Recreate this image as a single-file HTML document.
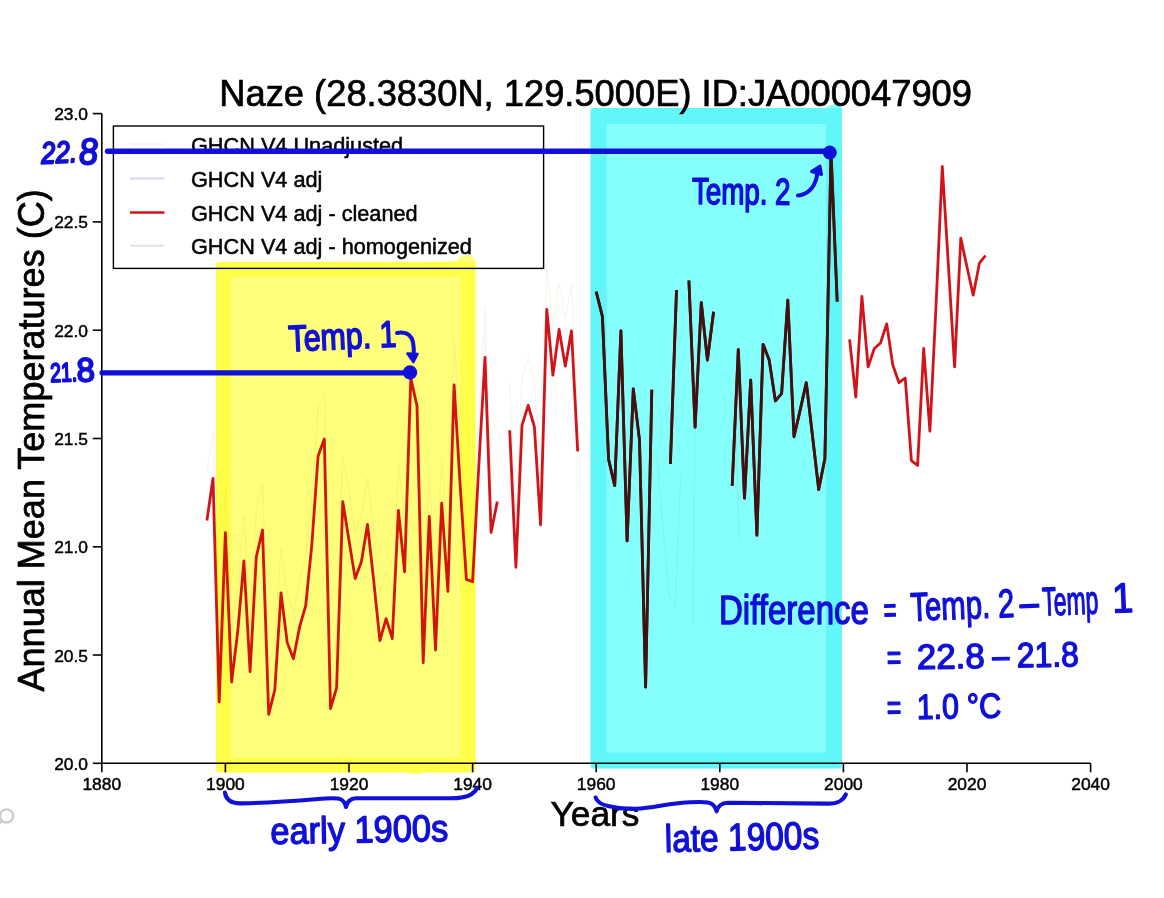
<!DOCTYPE html>
<html lang="en"><head><meta charset="utf-8"><title>Naze annual mean temperatures</title>
<style>
html,body{margin:0;padding:0;background:#fff;}
body{width:1164px;height:898px;overflow:hidden;}
svg{display:block;font-family:"Liberation Sans",Arial,Helvetica,sans-serif;}
.ax{stroke:#000;stroke-width:1.6;fill:none;}
.tk{font-size:17.4px;fill:#000;stroke:#000;stroke-width:0.45;}
.lg{font-size:21.7px;fill:#000;stroke:#000;stroke-width:0.5;}
.big{fill:#000;stroke:#000;stroke-width:0.7;}
.red{stroke:#d2141a;stroke-width:2.8;fill:none;stroke-linejoin:round;}
.dk{stroke:#3e1210;stroke-width:2.8;fill:none;stroke-linejoin:round;}
.hl{mix-blend-mode:multiply;}
.ink{stroke:#1010d8;fill:none;stroke-linecap:round;stroke-linejoin:round;}
.hw{fill:#1010d8;stroke:#1010d8;stroke-width:1.4;stroke-linejoin:round;}
</style></head><body>
<svg width="1164" height="898" viewBox="0 0 1164 898">
<rect width="1164" height="898" fill="#fff"/>

<g fill="none" stroke-width="1.6" stroke="#f3f2e8" opacity="0.6">
<polyline points="206.9,473.5 213.0,431.4 219.2,654.9 225.4,485.6 231.6,635.0 237.8,584.0 243.9,514.0 250.1,624.6 256.3,510.0 262.5,483.0 268.7,667.4 274.8,642.8 281.0,546.0 287.2,595.4 293.4,611.7 299.6,580.0 305.7,558.7 311.9,497.0 318.1,409.0 324.3,392.0 330.5,661.7 336.6,640.9 342.8,454.6 349.0,493.5 355.2,531.6 361.4,514.8 367.5,477.5 373.7,533.6 379.9,593.7 386.1,571.7 392.3,591.7 398.4,463.4 404.6,524.8 410.8,331.0 417.0,359.0 423.2,615.8 429.3,469.4 435.5,603.0 441.7,456.2 447.9,544.4 454.1,338.0 460.2,439.0 466.4,532.4 472.6,534.8 478.8,419.0 485.0,310.3 491.1,485.5 497.3,454.6"/>
<polyline points="509.7,383.3 515.9,520.3 522.0,378.3 528.2,358.3 534.4,380.0 540.6,477.9 546.8,262.4 552.9,328.2 559.1,282.4 565.3,319.2 571.5,283.8 577.7,404.4"/>
<polyline points="485.2,357 485.2,308"/><polyline points="515.6,567 515.6,580"/><polyline points="577.6,451 577.6,492"/>
<polyline points="657,458 669,595 675,607 681,470"/><polyline points="693,625 695,420"/><polyline points="739,540 735,400"/>
</g>
<path class="ax" d="M101.8,113.4 V763.3 H1090.5"/>
<path class="ax" d="M92.8,763.3 H101.8"/>
<text class="tk" x="88.0" y="769.8" text-anchor="end">20.0</text>
<path class="ax" d="M92.8,655.0 H101.8"/>
<text class="tk" x="88.0" y="661.5" text-anchor="end">20.5</text>
<path class="ax" d="M92.8,546.8 H101.8"/>
<text class="tk" x="88.0" y="553.2" text-anchor="end">21.0</text>
<path class="ax" d="M92.8,438.5 H101.8"/>
<text class="tk" x="88.0" y="445.0" text-anchor="end">21.5</text>
<path class="ax" d="M92.8,330.2 H101.8"/>
<text class="tk" x="88.0" y="336.7" text-anchor="end">22.0</text>
<path class="ax" d="M92.8,221.9 H101.8"/>
<text class="tk" x="88.0" y="228.4" text-anchor="end">22.5</text>
<path class="ax" d="M92.8,113.6 H101.8"/>
<text class="tk" x="88.0" y="120.1" text-anchor="end">23.0</text>
<path class="ax" d="M101.8,763.3 V772.3"/>
<text class="tk" x="101.8" y="789.5" text-anchor="middle">1880</text>
<path class="ax" d="M225.4,763.3 V772.3"/>
<text class="tk" x="225.4" y="789.5" text-anchor="middle">1900</text>
<path class="ax" d="M349.0,763.3 V772.3"/>
<text class="tk" x="349.0" y="789.5" text-anchor="middle">1920</text>
<path class="ax" d="M472.6,763.3 V772.3"/>
<text class="tk" x="472.6" y="789.5" text-anchor="middle">1940</text>
<path class="ax" d="M596.2,763.3 V772.3"/>
<text class="tk" x="596.2" y="789.5" text-anchor="middle">1960</text>
<path class="ax" d="M719.8,763.3 V772.3"/>
<text class="tk" x="719.8" y="789.5" text-anchor="middle">1980</text>
<path class="ax" d="M843.4,763.3 V772.3"/>
<text class="tk" x="843.4" y="789.5" text-anchor="middle">2000</text>
<path class="ax" d="M967.0,763.3 V772.3"/>
<text class="tk" x="967.0" y="789.5" text-anchor="middle">2020</text>
<path class="ax" d="M1090.6,763.3 V772.3"/>
<text class="tk" x="1090.6" y="789.5" text-anchor="middle">2040</text>
<text class="big" x="219.3" y="106" font-size="36.3">Naze (28.3830N, 129.5000E) ID:JA000047909</text>
<text class="big" x="550.5" y="825.5" font-size="35.3">Years</text>
<text transform="translate(44.2,691.5) rotate(-90)" class="big" font-size="36.05">Annual Mean Temperatures (C)</text>
<rect x="113.4" y="126" width="430.2" height="142.4" fill="#fff" stroke="#000" stroke-width="1.4"/>
<path d="M130,144.4 H164.4" stroke="#f6f5f0" stroke-width="2.4"/>
<text class="lg" x="191" y="152.8">GHCN V4 Unadjusted</text>
<path d="M130,178.5 H164.4" stroke="#dcdcf4" stroke-width="2.4"/>
<text class="lg" x="191" y="186.9">GHCN V4 adj</text>
<path d="M130,212.5 H164.4" stroke="#d4141c" stroke-width="2.4"/>
<text class="lg" x="191" y="220.9">GHCN V4 adj - cleaned</text>
<path d="M130,245.7 H164.4" stroke="#e6e6e8" stroke-width="2.4"/>
<text class="lg" x="191" y="254.1">GHCN V4 adj - homogenized</text>
<polyline class="red" points="206.9,520.5 213.0,478.4 219.2,701.9 225.4,532.6 231.6,682.0 237.8,631.0 243.9,561.0 250.1,671.6 256.3,557.0 262.5,530.0 268.7,714.4 274.8,689.8 281.0,593.0 287.2,642.4 293.4,658.7 299.6,627.0 305.7,605.7 311.9,544.0 318.1,456.0 324.3,439.0 330.5,708.7 336.6,687.9 342.8,501.6 349.0,540.5 355.2,578.6 361.4,561.8 367.5,524.5 373.7,580.6 379.9,640.7 386.1,618.7 392.3,638.7 398.4,510.4 404.6,571.8 410.8,378.0 417.0,406.0 423.2,662.8 429.3,516.4 435.5,650.0 441.7,503.2 447.9,591.4 454.1,385.0 460.2,486.0 466.4,579.4 472.6,581.8 478.8,466.0 485.0,357.3 491.1,532.5 497.3,501.6"/>
<polyline class="red" points="509.7,430.3 515.9,567.3 522.0,425.3 528.2,405.3 534.4,427.0 540.6,524.9 546.8,309.4 552.9,375.2 559.1,329.4 565.3,366.2 571.5,330.8 577.7,451.4"/>
<polyline class="red" points="596.2,291.6 602.4,316.5 608.6,459.4 614.7,485.7 620.9,330.9 627.1,540.9 633.3,388.9 639.5,440.2 645.6,687.0 651.8,389.8"/>
<polyline class="red" points="670.4,464.0 676.5,290.0"/>
<polyline class="red" points="688.9,280.5 695.1,427.2 701.3,302.6 707.4,360.0 713.6,311.7"/>
<polyline class="red" points="732.2,485.7 738.3,349.6 744.5,498.2 750.7,380.2 756.9,535.1 763.1,344.3 769.2,360.1 775.4,400.9 781.6,393.7 787.8,300.2 794.0,436.8 800.1,410.4 806.3,382.6 812.5,436.0 818.7,489.5 824.9,458.4 831.0,151.6 837.2,301.6"/>
<polyline class="red" points="849.6,339.3 855.8,397.0 861.9,296.3 868.1,366.9 874.3,348.5 880.5,343.0 886.7,323.9 892.8,365.0 899.0,382.7 905.2,378.0 911.4,460.6 917.6,465.4 923.7,348.5 929.9,431.2 936.1,304.0 942.3,166.5 948.5,267.0 954.6,366.9 960.8,238.2 967.0,267.0 973.2,295.2 979.4,263.2 985.5,255.5"/>
<defs><clipPath id="cy"><rect x="590.5" y="108" width="251.5" height="660.5"/></clipPath></defs>
<g>
<path class="hl" d="M216,267 Q216,262 221,262 L452,261.5 Q457,261 459,258 Q462,255 467,255 Q475,255.5 475.5,263 L475.8,767 Q475.8,772.5 470,772.5 L425,772.5 Q415,776 405,772.5 L221,772.5 Q216,772.5 216,767 Z" fill="#ffff7c"/>
<rect class="hl" x="223.5" y="269.5" width="244.5" height="495.5" fill="none" stroke="#ffff96" stroke-width="15"/>
<path class="hl" d="M590.5,112 Q590.5,108 594.5,108 L826,108 Q829,104.5 835,104.3 Q842,104.5 842,110 L842,764.5 Q842,768.5 838,768.5 L594.5,768.5 Q590.5,768.5 590.5,764.5 Z" fill="#84fffc"/>
<rect class="hl" x="598.5" y="116" width="235.5" height="644.5" fill="none" stroke="#bcf6fb" stroke-width="16"/>
</g>
<g clip-path="url(#cy)">
<polyline class="dk" points="596.2,291.6 602.4,316.5 608.6,459.4 614.7,485.7 620.9,330.9 627.1,540.9 633.3,388.9 639.5,440.2 645.6,687.0 651.8,389.8"/>
<polyline class="dk" points="670.4,464.0 676.5,290.0"/>
<polyline class="dk" points="688.9,280.5 695.1,427.2 701.3,302.6 707.4,360.0 713.6,311.7"/>
<polyline class="dk" points="732.2,485.7 738.3,349.6 744.5,498.2 750.7,380.2 756.9,535.1 763.1,344.3 769.2,360.1 775.4,400.9 781.6,393.7 787.8,300.2 794.0,436.8 800.1,410.4 806.3,382.6 812.5,436.0 818.7,489.5 824.9,458.4 831.0,151.6 837.2,301.6"/>
</g>
<g class="ink">
<path d="M107.5,151.2 H830" stroke-width="5.4"/>
<circle cx="829.8" cy="152.6" r="7" fill="#1010d8" stroke="none"/>
<path d="M102,372.8 H410" stroke-width="5.2"/>
<circle cx="410" cy="372.5" r="7.2" fill="#1010d8" stroke="none"/>
<path d="M397,333 C405,331.5 411,334 413,342 C414,347 414,352 413.6,357" stroke-width="4"/>
<path d="M407.5,353.5 L413.4,362 L417.5,354 Z" stroke-width="2.6" fill="#1010d8"/>
<path d="M798,195.5 C807,195 814,188 816.5,178 L818,169" stroke-width="4"/>
<path d="M811.5,171.5 L820,166 L821.5,174.5 Z" stroke-width="3" fill="#1010d8"/>
<path d="M224.9,792.5 C226,800 231,803.6 241,803.4 C262,803 290,801.3 318,799 C328,798.2 337,797.5 341,799.5 C344,801 345.3,804 346,807 C347,802.5 349.5,798.6 356,798.3 L450,798.3 C460,798.3 467,797.2 471,794.5 C474.5,792 476.3,790 477,788" stroke-width="4.1"/>
<path d="M595.6,797.5 C597,802 601,804.5 608,806 C618,808.5 628,809.2 636,808.8 C652,808 664,804.5 680,803 C692,802 702,801.5 708,802.5 C713,803.5 715.5,807 716.6,811.3 C718,806 721,803 728,802.8 L828,803.6 C838,803.6 843,801 845.8,794.4" stroke-width="4.1"/>
</g>
<text class="hw" transform="rotate(-3 41.5 163.8)" style="font-style:italic;stroke-width:2.0"><tspan x="41.5" y="163.8" font-size="30.5" textLength="36" lengthAdjust="spacingAndGlyphs">22.</tspan><tspan x="79.5" y="166.6" font-size="36.5" textLength="19" lengthAdjust="spacingAndGlyphs">8</tspan></text>
<text class="hw" transform="rotate(-2 50.5 382)" style="stroke-width:2.0"><tspan x="50.5" y="382" font-size="26.5" textLength="27" lengthAdjust="spacingAndGlyphs">21.</tspan><tspan x="77" y="382.7" font-size="33.5" textLength="18.2" lengthAdjust="spacingAndGlyphs">8</tspan></text>
<text class="hw" x="289" y="351.5" font-size="37" textLength="108" lengthAdjust="spacingAndGlyphs" transform="rotate(-2.6 289 351.5)" style="stroke-width:1.7">Temp. 1</text>
<text class="hw" x="692" y="203.8" font-size="37" textLength="98.5" lengthAdjust="spacingAndGlyphs" transform="rotate(0.4 692 203.8)" style="stroke-width:1.7">Temp. 2</text>
<text class="hw" x="270.5" y="844" font-size="37.5" textLength="178" lengthAdjust="spacingAndGlyphs" transform="rotate(-1 270.5 844)">early 1900s</text>
<text class="hw" x="665" y="852" font-size="38.5" textLength="154.5" lengthAdjust="spacingAndGlyphs" transform="rotate(-1.3 665 852)">late 1900s</text>
<text class="hw" x="719" y="624" font-size="40" textLength="150" lengthAdjust="spacingAndGlyphs">Difference</text>
<text class="hw" transform="rotate(-2.3 884 622.5)"><tspan x="884" y="622.5" font-size="36" textLength="13" lengthAdjust="spacingAndGlyphs">=</tspan> <tspan x="911" y="622" font-size="40" textLength="104" lengthAdjust="spacingAndGlyphs">Temp. 2</tspan> <tspan x="1020.5" y="622" font-size="40" textLength="19" lengthAdjust="spacingAndGlyphs">–</tspan> <tspan x="1043" y="622" font-size="40" textLength="56" lengthAdjust="spacingAndGlyphs">Temp</tspan> <tspan x="1113" y="622" font-size="42" textLength="21" lengthAdjust="spacingAndGlyphs">1</tspan></text>
<text class="hw" transform="rotate(-1 887 669.5)"><tspan x="887" y="669.5" font-size="35" textLength="14.5" lengthAdjust="spacingAndGlyphs">=</tspan> <tspan x="917" y="669.5" font-size="35" textLength="68" lengthAdjust="spacingAndGlyphs">22.8</tspan> <tspan x="992.5" y="669.5" font-size="35" textLength="17" lengthAdjust="spacingAndGlyphs">–</tspan> <tspan x="1017" y="669.5" font-size="35" textLength="62" lengthAdjust="spacingAndGlyphs">21.8</tspan></text>
<text class="hw" transform="rotate(-1 887 719.5)"><tspan x="887" y="719.5" font-size="35" textLength="14.5" lengthAdjust="spacingAndGlyphs">=</tspan> <tspan x="917" y="719.5" font-size="35" textLength="42" lengthAdjust="spacingAndGlyphs">1.0</tspan> <tspan x="967" y="719.5" font-size="35" textLength="34.5" lengthAdjust="spacingAndGlyphs">°C</tspan></text>
<circle cx="6.6" cy="815.9" r="6.6" fill="none" stroke="#cbcbcb" stroke-width="2.3"/>
<path d="M1.6,821 L-3,826" stroke="#cbcbcb" stroke-width="2.6"/>
</svg></body></html>
